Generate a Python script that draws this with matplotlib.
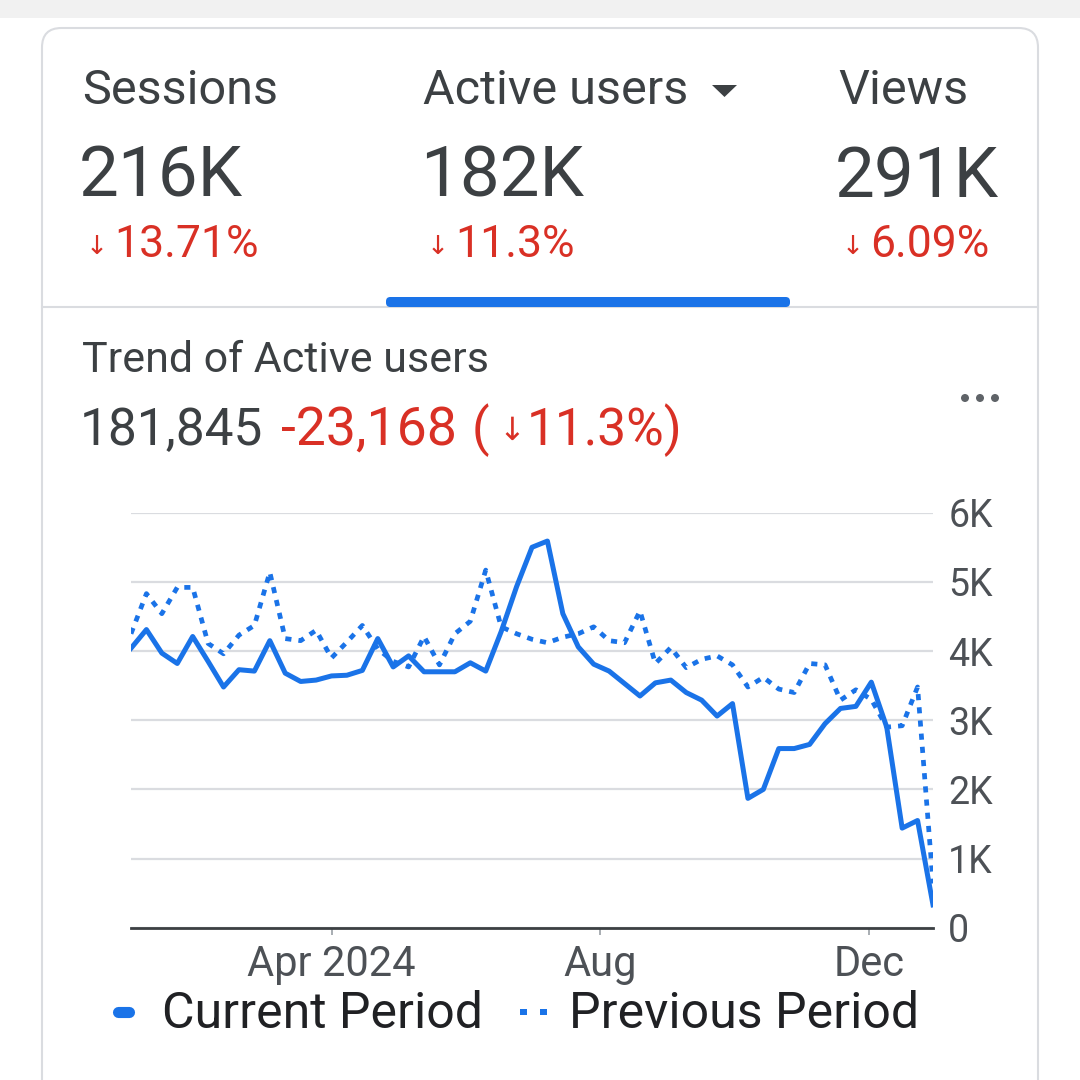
import matplotlib
matplotlib.use("Agg")
import matplotlib.pyplot as plt
from matplotlib.lines import Line2D
from matplotlib.patches import FancyBboxPatch, Rectangle, Polygon, Circle
import pandas as pd

plt.rcParams['font.family'] = ['Roboto', 'DejaVu Sans']

# weekly active users, 2024
weeks = pd.date_range('2024-01-01', periods=53, freq='7D')
current_period = [
    4040, 4310, 3970, 3820, 4210, 3850, 3480, 3730, 3710, 4150,
    3680, 3560, 3580, 3640, 3650, 3720, 4180, 3770, 3930, 3700,
    3700, 3700, 3830, 3710, 4280, 4930, 5500, 5590, 4540, 4060,
    3810, 3710, 3530, 3350, 3540, 3580, 3400, 3290, 3060, 3240,
    1870, 2000, 2590, 2590, 2650, 2950, 3170, 3200, 3550, 2900,
    1440, 1550, 330,
]
previous_period = [
    4250, 4830, 4540, 4920, 4920, 4110, 3960, 4230, 4370, 5140,
    4180, 4150, 4300, 3900, 4130, 4370, 4030, 3850, 3770, 4210,
    3800, 4250, 4430, 5170, 4350, 4250, 4170, 4120, 4200, 4250,
    4350, 4150, 4120, 4580, 3820, 4050, 3760, 3880, 3930, 3800,
    3480, 3620, 3450, 3400, 3820, 3800, 3290, 3440, 3300, 2900,
    2920, 3480, 640,
]
y_ticks = [0, 1000, 2000, 3000, 4000, 5000, 6000]
y_tick_labels = ['0', '1K', '2K', '3K', '4K', '5K', '6K']
x_ticks = pd.to_datetime(['2024-04-01', '2024-08-01', '2024-12-01'])
x_tick_labels = ['Apr 2024', 'Aug', 'Dec']

metrics = ['Sessions', 'Active users', 'Views']
metric_totals = ['216K', '182K', '291K']
metric_changes = ['13.71%', '11.3%', '6.09%']

BLUE = '#1a73e8'
DARK = '#3c4043'
RED = '#d93025'
GRID = '#dadce0'

W = H = 1080


def fx(px):
    return px / W


def fy(py):
    return 1 - py / H


fig = plt.figure(figsize=(10.8, 10.8), dpi=100)
fig.patch.set_facecolor('white')

# page background band and card
fig.add_artist(Rectangle((0, fy(18)), 1, fy(0) - fy(18), transform=fig.transFigure,
                         facecolor='#f1f1f1', edgecolor='none', zorder=0))
fig.add_artist(FancyBboxPatch((fx(42), fy(1120)), fx(996), (1120 - 28) / H,
                              boxstyle='round,pad=0,rounding_size=0.018',
                              transform=fig.transFigure, facecolor='white',
                              edgecolor=GRID, linewidth=1.5, zorder=1))

# metric tabs
tab_x = [82, 423, 838]
for x, name, total, change in zip(tab_x, metrics, metric_totals, metric_changes):
    fig.text(fx(x), fy(104), name, fontsize=35, color=DARK, va='baseline', zorder=3)
    fig.text(fx(x - 3), fy(197), total, fontsize=51, color=DARK, va='baseline', zorder=3)
    fig.text(fx(x + 4), fy(254), '\u2193', fontsize=19, color=RED, va='baseline',
             family='DejaVu Sans', zorder=3)
    fig.text(fx(x + 32), fy(257), change, fontsize=32, color=RED, va='baseline', zorder=3)

fig.add_artist(Polygon([(fx(712), fy(85)), (fx(737), fy(85)), (fx(724.5), fy(97))],
                       closed=True, transform=fig.transFigure, facecolor=DARK,
                       edgecolor='none', zorder=3))

fig.add_artist(Line2D([fx(42), fx(1038)], [fy(307), fy(307)], transform=fig.transFigure,
                      color=GRID, linewidth=1.5, zorder=2))
fig.add_artist(FancyBboxPatch((fx(386), fy(307)), fx(404), 10 / H,
                              boxstyle='round,pad=0,rounding_size=0.004',
                              transform=fig.transFigure, facecolor=BLUE,
                              edgecolor='none', zorder=3))

# trend header
fig.text(fx(82), fy(372), 'Trend of Active users', fontsize=31, color=DARK, va='baseline', zorder=3)
fig.text(fx(80), fy(445), '181,845', fontsize=37, color=DARK, va='baseline', zorder=3)
fig.text(fx(281), fy(445), '-23,168', fontsize=38.5, color=RED, va='baseline', zorder=3)
fig.text(fx(472), fy(445), '(', fontsize=37, color=RED, va='baseline', zorder=3)
fig.text(fx(498), fy(440), '\u2193', fontsize=23, color=RED, va='baseline',
         family='DejaVu Sans', zorder=3)
fig.text(fx(527), fy(445), '11.3%)', fontsize=37, color=RED, va='baseline', zorder=3)
for cx in [965, 980, 995]:
    fig.add_artist(Circle((fx(cx), fy(398)), 4 / W, transform=fig.transFigure,
                          facecolor='#5f6368', edgecolor='none', zorder=3))

# chart
ax = fig.add_axes([fx(131), fy(927.7), fx(933) - fx(131), (927.7 - 512.7) / H])
ax.set_zorder(5)
ax.set_facecolor('none')
ax.plot(weeks, previous_period, color=BLUE, linewidth=3.4, linestyle=(0, (1.3, 1.5)),
        zorder=3)
ax.plot(weeks, current_period, color=BLUE, linewidth=3.6, zorder=4)

ax.set_xlim(weeks[0], weeks[-1])
ax.set_ylim(0, 6000)
ax.set_yticks(y_ticks)
ax.set_yticklabels(y_tick_labels)
ax.yaxis.tick_right()
ax.tick_params(axis='y', length=0, pad=11, labelsize=27, labelcolor='#4d5156')
ax.set_xticks(x_ticks)
ax.set_xticklabels(x_tick_labels)
ax.tick_params(axis='x', length=5, width=1.2, color='#9aa0a6', pad=7,
               labelsize=30, labelcolor='#4d5156')
ax.grid(axis='y', color=GRID, linewidth=1.6)
ax.set_axisbelow(True)
for side in ['top', 'left', 'right']:
    ax.spines[side].set_visible(False)
ax.spines['bottom'].set_color('#3c4043')
ax.spines['bottom'].set_linewidth(2)

# legend
fig.add_artist(Line2D([fx(118), fx(129)], [fy(1012), fy(1012)], transform=fig.transFigure,
                      color=BLUE, linewidth=8, solid_capstyle='round', zorder=3))
fig.text(fx(162), fy(1028), 'Current Period', fontsize=36, color='#202124', va='baseline', zorder=3)
for px in [520, 540]:
    fig.add_artist(Rectangle((fx(px), fy(1015)), 7 / W, 6 / H, transform=fig.transFigure,
                             facecolor=BLUE, edgecolor='none', zorder=3))
fig.text(fx(569), fy(1028), 'Previous Period', fontsize=36, color='#202124', va='baseline', zorder=3)

fig.savefig('out.png', dpi=100, facecolor=fig.get_facecolor())
